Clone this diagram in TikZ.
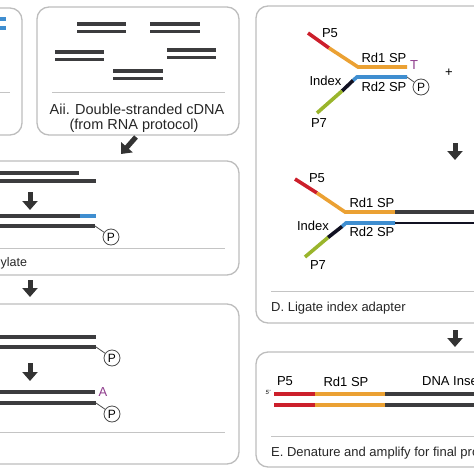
\documentclass[tikz,border=0pt]{standalone}
\usepackage{fontspec}
\setmainfont{Liberation Sans}
\usetikzlibrary{arrows.meta}
\definecolor{boxgray}{HTML}{BDBDBD}
\definecolor{sepgray}{HTML}{C4C4C4}
\definecolor{dkgray}{HTML}{3C3C3E}
\definecolor{arrgray}{HTML}{333333}
\definecolor{dnared}{HTML}{CC1F2B}
\definecolor{dnaorange}{HTML}{EBA133}
\definecolor{dnablue}{HTML}{3F8ED0}
\definecolor{dnagreen}{HTML}{9AB52C}
\definecolor{dnablack}{HTML}{111122}
\definecolor{purp}{HTML}{8E3C8C}
\begin{document}
\begin{tikzpicture}[x=1pt,y=-1pt,
  panel/.style={draw=boxgray, line width=1.3pt, rounded corners=12pt},
  sepline/.style={draw=sepgray, line width=0.9pt},
  strand/.style={draw=dkgray, line width=3.2pt},
  colstrand/.style={line width=3.6pt},
  captext/.style={font=\fontsize{13}{15}\selectfont, text=black!85, inner sep=0pt},
  bigcap/.style={font=\fontsize{14.5}{16}\selectfont, text=black!85, inner sep=0pt},
  lbl/.style={font=\fontsize{13}{15}\selectfont, inner sep=0pt},
  pcirc/.style={circle, draw=black!70, line width=0.8pt, minimum size=16pt, inner sep=0pt, font=\fontsize{12}{12}\selectfont},
  plink/.style={draw=black!70, line width=0.8pt},
  bigarrow/.style={draw=arrgray, line width=5pt, -{Triangle[width=15pt,length=9pt]}}]
\useasboundingbox (0,0) rectangle (474,474);
\clip (0,0) rectangle (474,474);

% ---------- Panel A (cropped) ----------
\draw[panel] (-40,8) rectangle (22,135);
\draw[colstrand, dnablue] (-5,19) -- (6,19);
\draw[colstrand, dnablue] (-5,28) -- (6,28);
\draw[sepline] (-10,92) -- (10,92);

% ---------- Panel Aii ----------
\draw[panel] (37,7) rectangle (239,135);
\foreach \xa/\xb/\yy in {77/126/24, 150/200/24, 55/104/52, 167/216/50, 113/163/71}{
  \draw[strand] (\xa,\yy) -- (\xb,\yy);
  \draw[strand] (\xa,\yy+7.5) -- (\xb,\yy+7.5);
}
\draw[sepline] (52,92) -- (225,92);
\node[bigcap, anchor=base] (aiit1) at (137,114.5) {Aii. Double-stranded cDNA};
\node[bigcap, anchor=base] (aiit2) at (134,129) {(from RNA protocol)};

\coordinate (aiiarrS) at (136,137);
\coordinate (aiiarrE) at (121,154);
\draw[bigarrow] (aiiarrS) -- (aiiarrE);

% ---------- Panel B ----------
\draw[panel] (-40,161) rectangle (239,275);
\draw[strand] (-5,173) -- (79,173);
\draw[strand] (-5,181) -- (96,181);
\coordinate (barrS) at (30,192);
\coordinate (barrE) at (30,210);
\draw[bigarrow] (barrS) -- (barrE);
\draw[strand] (-5,216) -- (80,216);
\draw[colstrand, dnablue] (80,216) -- (96,216);
\draw[strand] (-5,226) -- (95,226);
\coordinate (bend) at (95,226);
\node[pcirc] (bp) at (111,237) {P};
\draw[plink] (bend) -- (bp);
\draw[sepline] (-10,248) -- (225,248);
\node[inner sep=0pt, font=\fontsize{12.5}{14}\selectfont, text=black!85, anchor=base west] (bcap) at (0.5,266) {ylate};

% arrow B -> C
\coordinate (bcS) at (30,280);
\coordinate (bcE) at (30,297);
\draw[bigarrow] (bcS) -- (bcE);

% ---------- Panel C ----------
\draw[panel] (-40,304) rectangle (239,464);
\draw[strand] (-5,337) -- (96,337);
\draw[strand] (-5,347) -- (96,347);
\coordinate (c1end) at (96,347);
\node[pcirc] (cp1) at (112,358) {P};
\draw[plink] (c1end) -- (cp1);
\coordinate (carrS) at (30,363);
\coordinate (carrE) at (30,381);
\draw[bigarrow] (carrS) -- (carrE);
\draw[strand] (-5,392) -- (95,392);
\node[lbl, text=purp] (ca) at (103,392) {A};
\draw[strand] (-5,403) -- (96,403);
\coordinate (c2end) at (96,403);
\node[pcirc] (cp2) at (112,414) {P};
\draw[plink] (c2end) -- (cp2);
\draw[sepline] (-10,432) -- (225,432);

% ---------- Panel D ----------
\draw[panel] (256,6) rectangle (520,323);
% adapter
\draw[colstrand, dnared] (308,33) -- (329,48);
\draw[colstrand, dnaorange] (329,48) -- (358,67) -- (407,67);
\draw[colstrand, dnablue] (407,77) -- (357,77) -- (353,80.5);
\draw[colstrand, dnablack] (353,80.5) -- (342,91);
\draw[colstrand, dnagreen] (342,91) -- (317,113);
\coordinate (dadend) at (407,77);
\node[pcirc] (dp) at (421,87) {P};
\draw[plink] (dadend) -- (dp);
\node[lbl] (dp5a) at (330,33) {P5};
\node[lbl] (drd1a) at (384,58) {Rd1 SP};
\node[lbl, text=purp] (dt) at (414,65) {T};
\node[lbl] (dinda) at (325.5,80.5) {Index};
\node[lbl] (drd2a) at (384,86.5) {Rd2 SP};
\node[lbl] (dp7a) at (319,123) {P7};
\node[lbl, font=\fontsize{13}{13}\selectfont] (dplus) at (449,73) {+};
\coordinate (darrS) at (455,143);
\coordinate (darrE) at (455,160);
\draw[bigarrow] (darrS) -- (darrE);
% ligated product
\draw[colstrand, dnared] (295,179) -- (317,193);
\draw[colstrand, dnaorange] (317,193) -- (345,212) -- (395,212);
\draw[strand] (395,212) -- (480,212);
\draw[colstrand, dnablue] (395,223) -- (346,223) -- (342,226.5);
\draw[colstrand, dnablack] (342,226.5) -- (328,237.5);
\draw[colstrand, dnagreen] (328,237.5) -- (305,257);
\draw[draw=dnablack, line width=2.4pt] (395,223) -- (480,223);
\node[lbl] (dp5b) at (317,178) {P5};
\node[lbl] (drd1b) at (372,203) {Rd1 SP};
\node[lbl] (dindb) at (313,226) {Index};
\node[lbl] (drd2b) at (372,232) {Rd2 SP};
\node[lbl] (dp7b) at (318,265) {P7};
\draw[sepline] (271,291) -- (480,291);
\node[captext, anchor=base west] (dcap) at (271,311) {D. Ligate index adapter};

% arrow D -> E
\coordinate (deS) at (455,330);
\coordinate (deE) at (455,347);
\draw[bigarrow] (deS) -- (deE);

% ---------- Panel E ----------
\draw[panel] (256,352) rectangle (520,467);
\foreach \yy in {394,405}{
  \draw[colstrand, dnared] (274,\yy) -- (315,\yy);
  \draw[colstrand, dnaorange] (315,\yy) -- (385,\yy);
  \draw[strand] (385,\yy) -- (480,\yy);
}
\node[inner sep=0pt, font=\fontsize{6}{6}\selectfont\itshape] (e5) at (268,392) {5'};
\node[lbl] (ep5) at (285,381.5) {P5};
\node[lbl] (erd1) at (346,381.5) {Rd1 SP};
\node[lbl, anchor=west] (edna) at (422,381.5) {DNA Insert};
\draw[sepline] (271,436) -- (480,436);
\node[captext, anchor=base west] (ecap) at (271,456) {E. Denature and amplify for final product};
\end{tikzpicture}
\end{document}
